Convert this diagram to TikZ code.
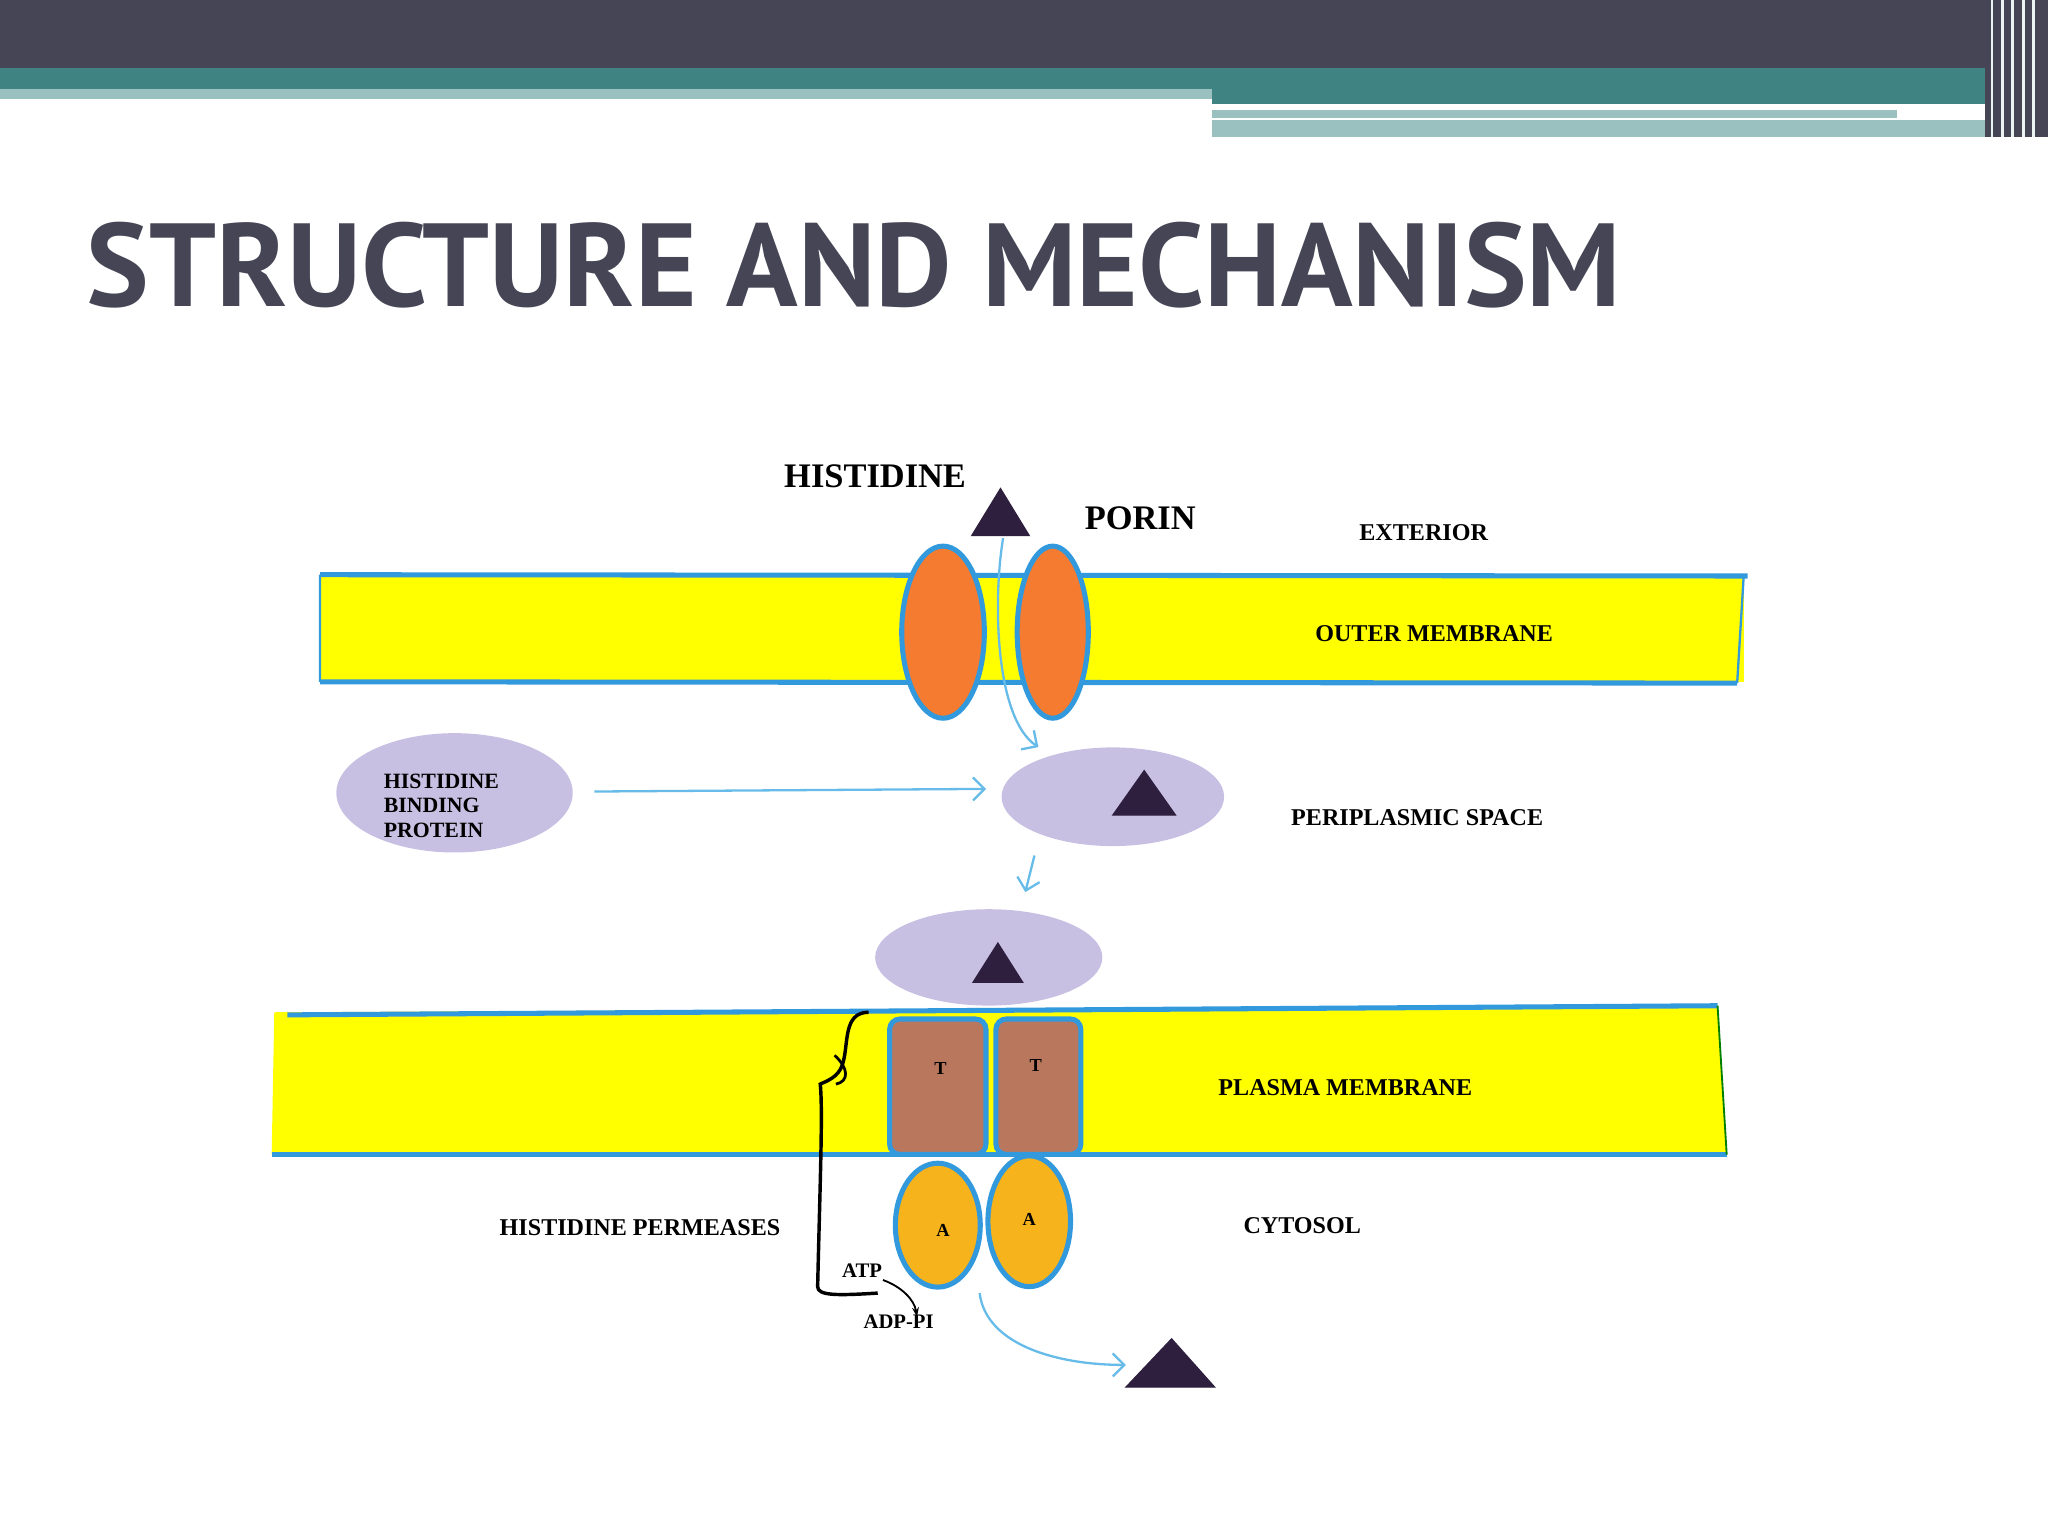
\documentclass[tikz,border=0pt]{standalone}
\usepackage{fontspec}
\setmainfont{Liberation Serif}
\newfontfamily\titlefont{PT Sans}
\usetikzlibrary{arrows.meta,shapes.geometric}
\definecolor{dark}{HTML}{454556}
\definecolor{teal1}{HTML}{3F8383}
\definecolor{teal2}{HTML}{9BC0C0}
\definecolor{memb}{HTML}{FFFF00}
\definecolor{mblue}{HTML}{3399DD}
\definecolor{porin}{HTML}{F47B30}
\definecolor{lav}{HTML}{C8C0E2}
\definecolor{tbox}{HTML}{B9775E}
\definecolor{aell}{HTML}{F6B31C}
\definecolor{tri}{HTML}{2E1F3E}
\definecolor{arr}{HTML}{66BBE8}
\begin{document}
\begin{tikzpicture}[x=0.02cm,y=-0.02cm,
 lbl/.style={font=\bfseries\fontsize{10.5}{12}\selectfont},
 sm/.style={font=\bfseries\fontsize{8}{9}\selectfont},
 big/.style={font=\bfseries\fontsize{15}{16}\selectfont},
 band/.style={fill=memb,draw=none},
 bline/.style={draw=mblue,line width=2.2pt},
 tp/.style={fill=tri,draw=tri,line width=0.5pt},
 ell/.style={ellipse,inner sep=0},
 ar/.style={draw=arr,line width=1pt,-{Straight Barb[length=5pt]}}]
\useasboundingbox (0,0) rectangle (1568,1176);
% header
\fill[dark] (0,0) rectangle (1520,52);
\fill[teal1] (0,52) rectangle (1520,68);
\fill[teal2] (0,68) rectangle (928,76);
\fill[teal1] (928,68) rectangle (1520,80);
\fill[teal2] (928,84) rectangle (1452,90);
\fill[teal2] (928,92) rectangle (1520,105);
\fill[dark] (1520,0) rectangle (1568,105);
\foreach \x in {1524,1532,1540,1548,1556}{\fill[white!80!teal2] (\x,0) rectangle (\x+2,105);}
\node[anchor=base west,text=dark,font=\titlefont\bfseries\fontsize{51.5}{56}\selectfont,inner sep=0] (title) at (66,235) {STRUCTURE AND MECHANISM};
% outer membrane
\path[band] (245,440) rectangle (1335,522);
\draw[bline] (245,440) -- (1338,441);
\draw[bline] (245,522) -- (1330,523);
\draw[mblue,line width=1pt] (245,440) -- (245,522) (1335,441) -- (1330,523);
\node[ell,draw=mblue,line width=2.2pt,fill=porin,minimum width=36pt,minimum height=75pt] (p1) at (722,484) {};
\node[ell,draw=mblue,line width=2.2pt,fill=porin,minimum width=31pt,minimum height=75pt] (p2) at (806,484) {};
\node[big] (his) at (670,365) {HISTIDINE};
\node[big] (por) at (873,397) {PORIN};
\node[lbl] (ext) at (1090,408) {EXTERIOR};
\node[lbl] (om) at (1098,485) {OUTER MEMBRANE};
\draw[tp] (744,410) -- (766,374) -- (788,410) -- cycle;
\coordinate (t1) at (768,412);
% periplasm
\node[ell,fill=lav,minimum width=103pt,minimum height=52pt] (hbp) at (348,607) {};
\node[lbl,align=left,font=\bfseries\fontsize{9.5}{10.5}\selectfont] at (338,617) {HISTIDINE\\BINDING\\PROTEIN};
\node[ell,fill=lav,minimum width=97pt,minimum height=43pt] (e1) at (852,610) {};
\draw[tp] (852,624) -- (876,590) -- (900,624) -- cycle;
\node[lbl] (ps) at (1085,626) {PERIPLASMIC SPACE};
\draw[ar] (t1) .. controls (760,460) and (762,550) .. (795,572);
\draw[ar] (455,606) -- (755,604);
\draw[ar] (792,655) -- (785,683);
\node[ell,fill=lav,minimum width=99pt,minimum height=42pt] (e2) at (757,733) {};
\draw[tp] (745,752) -- (764,722) -- (783,752) -- cycle;
% plasma membrane
\path[band] (210,775) -- (1315,770) -- (1322,884) -- (208,884) -- cycle;
\draw[bline] (220,777) -- (1315,770);
\draw[bline] (208,884) -- (1322,884);
\draw[green!50!black,line width=0.8pt] (1315,770) -- (1322,884);
\node[draw=mblue,line width=2.2pt,fill=tbox,rounded corners=4.5pt,minimum width=42pt,minimum height=59pt,inner sep=0] (T1) at (718,832) {};
\node[draw=mblue,line width=2.2pt,fill=tbox,rounded corners=4.5pt,minimum width=37pt,minimum height=59pt,inner sep=0] (T2) at (795,832) {};
\node[sm] at (720,818) {T};
\node[sm] at (793,816) {T};
\node[lbl] (pm) at (1030,833) {PLASMA MEMBRANE};
\node[ell,draw=mblue,line width=2.2pt,fill=aell,minimum width=37pt,minimum height=54pt] (A1) at (718,938) {};
\node[ell,draw=mblue,line width=2.2pt,fill=aell,minimum width=36pt,minimum height=57pt] (A2) at (788,935) {};
\node[sm] at (722,942) {A};
\node[sm] at (788,934) {A};
\node[lbl] (cy) at (997,938) {CYTOSOL};
\node[lbl] (hp) at (490,940) {HISTIDINE PERMEASES};
% brace
\draw[black,line width=1.5pt] (665,775) .. controls (645,775) and (650,800) .. (645,815) .. controls (642,825) and (632,828) .. (628,830) .. controls (630,850) and (628,900) .. (626,985) .. controls (626,992) and (640,992) .. (672,990);
\draw[black,line width=1.2pt] (639,808) .. controls (650,818) and (650,828) .. (640,830);
\node[sm,font=\bfseries\fontsize{9}{10}\selectfont] (atp) at (660,973) {ATP};
\node[sm,font=\bfseries\fontsize{9}{10}\selectfont] (adp) at (688,1012) {ADP-PI};
\draw[black,line width=0.8pt,-{Stealth[length=4pt]}] (676,980) .. controls (690,985) and (700,995) .. (702,1008);
\draw[ar] (750,990) .. controls (755,1030) and (810,1045) .. (862,1045);
\draw[tp] (862,1062) -- (897,1025) -- (930,1062) -- cycle;
\end{tikzpicture}
\end{document}
